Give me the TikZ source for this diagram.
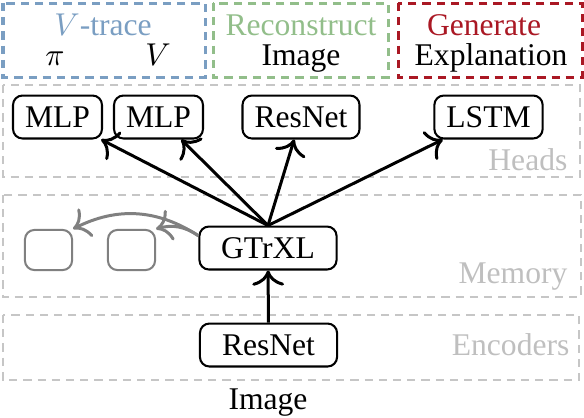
\documentclass[tikz,border=0pt]{standalone}
\usepackage{fontspec}
\setmainfont{Liberation Serif}
\usepackage{tikz}
\usetikzlibrary{arrows.meta}
\definecolor{vblue}{RGB}{122,158,194}
\definecolor{rgreen}{RGB}{146,190,138}
\definecolor{gred}{RGB}{170,24,36}

\begin{document}
\begin{tikzpicture}[x=0.3165pt,y=-0.3165pt,
  blk/.style={draw,rounded corners=3pt,line width=0.65pt,inner xsep=3.8pt,minimum height=13.6pt},
  wide/.style={blk,minimum width=43.4pt},
  ghost/.style={draw=gray,rounded corners=3pt,line width=0.65pt,minimum width=14.9pt,minimum height=12.7pt},
  region/.style={gray!45,dash pattern=on 2.6pt off 1.9pt,line width=0.8pt},
  task/.style={dash pattern=on 2.6pt off 1.9pt,line width=0.95pt},
  lbl/.style={anchor=base east,inner sep=0pt,text=gray!50},
  head/.style={-{To[scale=1.3]},line width=0.95pt},
  back/.style={-{To[scale=1.3]},gray,line width=0.95pt}]
\useasboundingbox (0,0) rectangle (584,417);

% tasks
\draw[task,vblue] (3,3) rectangle (205,77);
\draw[task,rgreen] (213,3) rectangle (388,77);
\draw[task,gred] (398,3) rectangle (582,77);
\node[anchor=base,text=vblue] (vtr) at (103,35) {$V$-trace};
\node[anchor=base] (pi) at (55,65) {$\pi$};
\node[anchor=base] (val) at (158,65) {$V$};
\node[anchor=base,text=rgreen] (rec) at (301,35) {Reconstruct};
\node[anchor=base] (rimg) at (301,65) {Image};
\node[anchor=base,text=gred] (gen) at (484,35) {Generate};
\node[anchor=base] (expl) at (491,65) {Explanation};

% regions
\draw[region] (3,85) rectangle (580,177);
\draw[region] (3,195) rectangle (581,297);
\draw[region] (3,315) rectangle (579,380);
\node[lbl] (heads) at (568,170) {Heads};
\node[lbl] (memory) at (568,283) {Memory};
\node[lbl] (encoders) at (570,355) {Encoders};

% heads
\node[blk] (mlpa) at (57.5,117) {MLP};
\node[blk] (mlpb) at (158.5,117) {MLP};
\node[blk] (resnet) at (301,117) {ResNet};
\node[blk] (lstm) at (488.5,117) {LSTM};

% memory
\node[wide] (gtrxl) at (268,248) {GTrXL};
\node[ghost] (mema) at (48.5,250) {};
\node[ghost] (memb) at (131.5,250) {};

% encoder
\node[wide] (enc) at (268.5,345) {ResNet};
\node (img) at (268,403) {Image};

\draw[head] (enc) -- (gtrxl);
\draw[head] (gtrxl.north) -- (mlpa);
\draw[head] (gtrxl.north) -- (mlpb);
\draw[head] (gtrxl.north) -- (resnet);
\draw[head] (gtrxl.north) -- (lstm);
\draw[back] (gtrxl.170) to[bend right=25] (memb.north east);
\draw[back] (gtrxl.170) to[bend right=30] (mema.north east);
\end{tikzpicture}
\end{document}
